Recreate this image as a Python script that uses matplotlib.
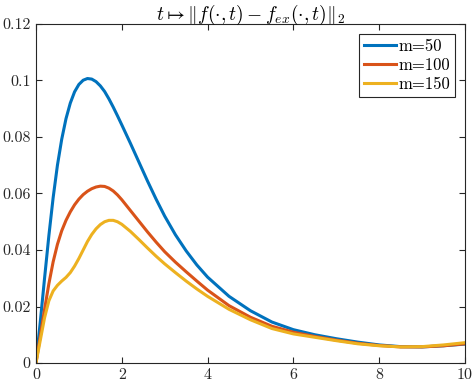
import numpy as np
import matplotlib
matplotlib.use('Agg')
import matplotlib.pyplot as plt

plt.rcParams['font.family'] = 'serif'
plt.rcParams['font.serif'] = ['cmr10']
plt.rcParams['mathtext.fontset'] = 'cm'
plt.rcParams['axes.formatter.use_mathtext'] = True

#%% values
t = [0, 0.1, 0.2, 0.3, 0.4, 0.5, 0.6, 0.7, 0.8, 0.9, 1.0, 1.1, 1.2, 1.3, 1.4,
     1.5, 1.6, 1.7, 1.8, 1.9, 2.0, 2.2, 2.4, 2.6, 2.8, 3.0, 3.25, 3.5, 3.75,
     4.0, 4.5, 5.0, 5.5, 6.0, 6.5, 7.0, 7.5, 8.0, 8.5, 9.0, 9.5, 10.0]

err_m50 = [0, 0.0145, 0.0300, 0.0450, 0.0585, 0.0700, 0.0792, 0.0865, 0.0920,
           0.0960, 0.0986, 0.1001, 0.1007, 0.1005, 0.0996, 0.0981, 0.0961,
           0.0935, 0.0906, 0.0875, 0.0843, 0.0778, 0.0711, 0.0644, 0.0580,
           0.0520, 0.0454, 0.0397, 0.0347, 0.0304, 0.0236, 0.0185, 0.0145,
           0.0118, 0.0100, 0.0086, 0.0074, 0.0064, 0.0058, 0.0057, 0.0061,
           0.0067]

err_m100 = [0, 0.0095, 0.0190, 0.0280, 0.0358, 0.0420, 0.0468, 0.0505, 0.0535,
            0.0560, 0.0580, 0.0596, 0.0608, 0.0617, 0.0623, 0.0626, 0.0625,
            0.0619, 0.0609, 0.0595, 0.0578, 0.0540, 0.0502, 0.0464, 0.0428,
            0.0394, 0.0357, 0.0323, 0.0290, 0.0258, 0.0203, 0.0162, 0.0130,
            0.0109, 0.0094, 0.0081, 0.0070, 0.0062, 0.0057, 0.0057, 0.0061,
            0.0068]

err_m150 = [0, 0.0080, 0.0160, 0.0220, 0.0255, 0.0275, 0.0290, 0.0303, 0.0320,
            0.0343, 0.0370, 0.0400, 0.0430, 0.0455, 0.0475, 0.0490, 0.0500,
            0.0505, 0.0505, 0.0500, 0.0491, 0.0466, 0.0437, 0.0407, 0.0378,
            0.0351, 0.0320, 0.0290, 0.0262, 0.0236, 0.0190, 0.0153, 0.0122,
            0.0103, 0.0091, 0.0079, 0.0068, 0.0061, 0.0057, 0.0058, 0.0064,
            0.0072]

labels = ['m=50', 'm=100', 'm=150']
colors = ['#0072BD', '#D95319', '#EDB120']

xticks = [0, 2, 4, 6, 8, 10]
yticks = [0, 0.02, 0.04, 0.06, 0.08, 0.1, 0.12]
yticklabels = ['0', '0.02', '0.04', '0.06', '0.08', '0.1', '0.12']

#%% plot
fig = plt.figure(figsize=(4.74, 3.87), dpi=100)
ax = fig.add_axes([0.0759, 0.062, 0.9051, 0.876])

for y, lab, c in zip([err_m50, err_m100, err_m150], labels, colors):
    ax.plot(t, y, color=c, linewidth=2.2, label=lab, solid_joinstyle='round')

ax.set_xlim([0, 10])
ax.set_ylim([0, 0.12])
ax.set_xticks(xticks)
ax.set_xticklabels([str(v) for v in xticks])
ax.set_yticks(yticks)
ax.set_yticklabels(yticklabels)

for s in ax.spines.values():
    s.set_color('#262626')
    s.set_linewidth(0.8)
ax.tick_params(direction='in', top=True, right=True, length=4, width=0.8,
               colors='#262626', labelsize=11.5, pad=4)

ax.set_title(r'$t\mapsto\|f(\cdot,t)-f_{ex}(\cdot,t)\|_2$', fontsize=14, pad=3)

leg = ax.legend(loc='upper right', fontsize=12, fancybox=False, framealpha=1,
                edgecolor='#262626', handlelength=1.9, handletextpad=0.15,
                borderpad=0.3, labelspacing=0.2, borderaxespad=0.6)
leg.get_frame().set_linewidth(0.8)

fig.savefig('out.png', dpi=100)
